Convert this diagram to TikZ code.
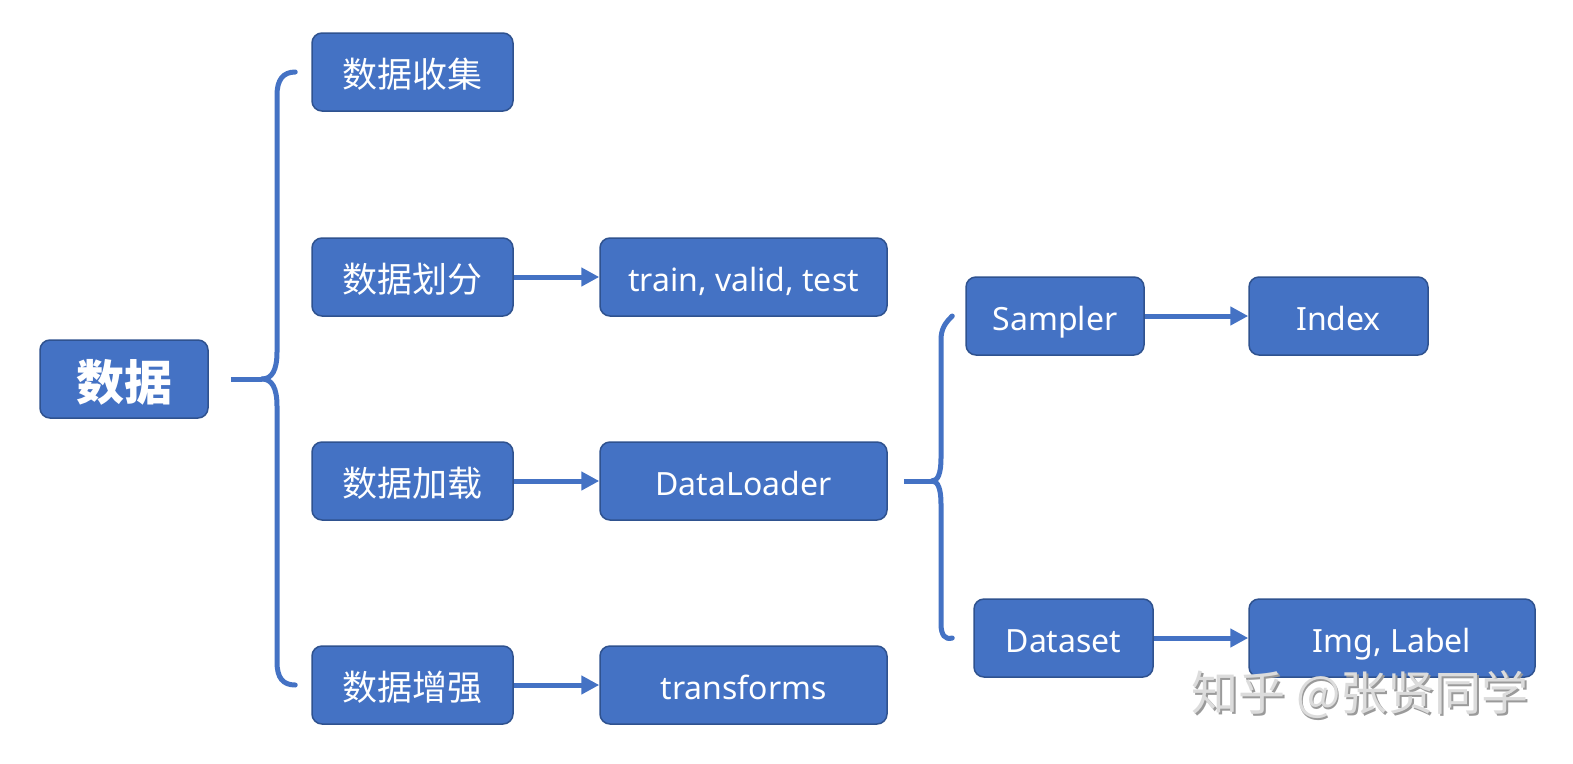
\documentclass[tikz,border=0pt]{standalone}
\usepackage{fontspec}
\setmainfont{Noto Sans}
\newfontfamily\cjk{Noto Sans CJK SC}
\usetikzlibrary{arrows.meta}
\definecolor{boxc}{HTML}{4472C4}
\definecolor{bordc}{HTML}{2F528F}
\definecolor{wmc}{HTML}{DCDCDC}
\definecolor{wmsh}{HTML}{9A9A9A}
\tikzset{
  box/.style={draw=bordc, fill=boxc, rounded corners=10pt, line width=1.5pt,
    text=white, minimum height=78pt, inner sep=0pt, font=\fontsize{32}{38}\selectfont,
    text height=28pt, text depth=0pt},
  cnbox/.style={box, font=\cjk\fontsize{35}{42}\selectfont, text height=30pt, text depth=0pt},
  arr/.style={draw=boxc, line width=5pt, -{Triangle[length=18pt,width=18pt]}},
  brace/.style={draw=boxc, line width=5pt},
  wmark/.style={font=\cjk\fontsize{47}{56}\selectfont, inner sep=0pt},
}
\begin{document}
\begin{tikzpicture}[x=1pt,y=-1pt]
\useasboundingbox (0,0) rectangle (1573,763);
\fill[white] (0,0) rectangle (1573,763);
% nodes
\node[box, minimum width=168pt, font=\cjk\bfseries\fontsize{48}{58}\selectfont, text height=42pt, text depth=0pt] (root) at (124,379) {数据};
\node[cnbox, minimum width=201pt] (collect) at (412.5,72) {数据收集};
\node[cnbox, minimum width=201pt] (split) at (412.5,277) {数据划分};
\node[cnbox, minimum width=201pt] (load) at (412.5,481) {数据加载};
\node[cnbox, minimum width=201pt] (aug) at (412.5,685) {数据增强};
\node[box, minimum width=287pt] (tvt) at (743.5,277) {train, valid, test};
\node[box, minimum width=287pt] (dl) at (743.5,481) {DataLoader};
\node[box, minimum width=287pt] (tf) at (743.5,685) {transforms};
\node[box, minimum width=178pt] (samp) at (1055,316) {Sampler};
\node[box, minimum width=179pt] (idx) at (1338.5,316) {Index};
\node[box, minimum width=179pt] (ds) at (1063.5,638) {Dataset};
\node[box, minimum width=286pt] (il) at (1392,638) {Img, Label};
% arrows
\draw[arr] (split.east) -- (tvt.west);
\draw[arr] (load.east) -- (dl.west);
\draw[arr] (aug.east) -- (tf.west);
\draw[arr] (samp.east) -- (idx.west);
\draw[arr] (ds.east) -- (il.west);
% brace 1
\coordinate (b1s) at ([xshift=22pt]root.east);
\coordinate (b1t) at (262,379);
\coordinate (b1a) at ([xshift=-16pt]collect.west);
\coordinate (b1b) at ([xshift=-16pt]aug.west);
\draw[brace] (b1s) -- (b1t);
\draw[brace, line cap=round] (b1a) .. controls (283,72) and (277,80) .. (277,95) -- (277,352)
  .. controls (277,370) and (272,379) .. (b1t);
\draw[brace, line cap=round] (b1t) .. controls (272,379) and (277,388) .. (277,406) -- (277,662)
  .. controls (277,678) and (283,685) .. (b1b);
% brace 2
\coordinate (b2s) at ([xshift=16pt]dl.east);
\coordinate (b2t) at (932,481);
\coordinate (b2a) at ([xshift=-13pt]samp.west);
\coordinate (b2b) at ([xshift=-21pt]ds.west);
\draw[brace] (b2s) -- (b2t);
\draw[brace, line cap=round] (b2a) .. controls (945,323) and (941,329) .. (941,340) -- (941,458)
  .. controls (941,473) and (938,481) .. (b2t);
\draw[brace, line cap=round] (b2t) .. controls (938,481) and (941,489) .. (941,504) -- (941,624)
  .. controls (941,635) and (945,640) .. (b2b);
% watermark
\node[wmark, text=wmsh] (wms) at (1361.5,696.5) {知乎 @张贤同学};
\node[wmark, text=wmc] (wm) at (1360,695) {知乎 @张贤同学};
\end{tikzpicture}
\end{document}
